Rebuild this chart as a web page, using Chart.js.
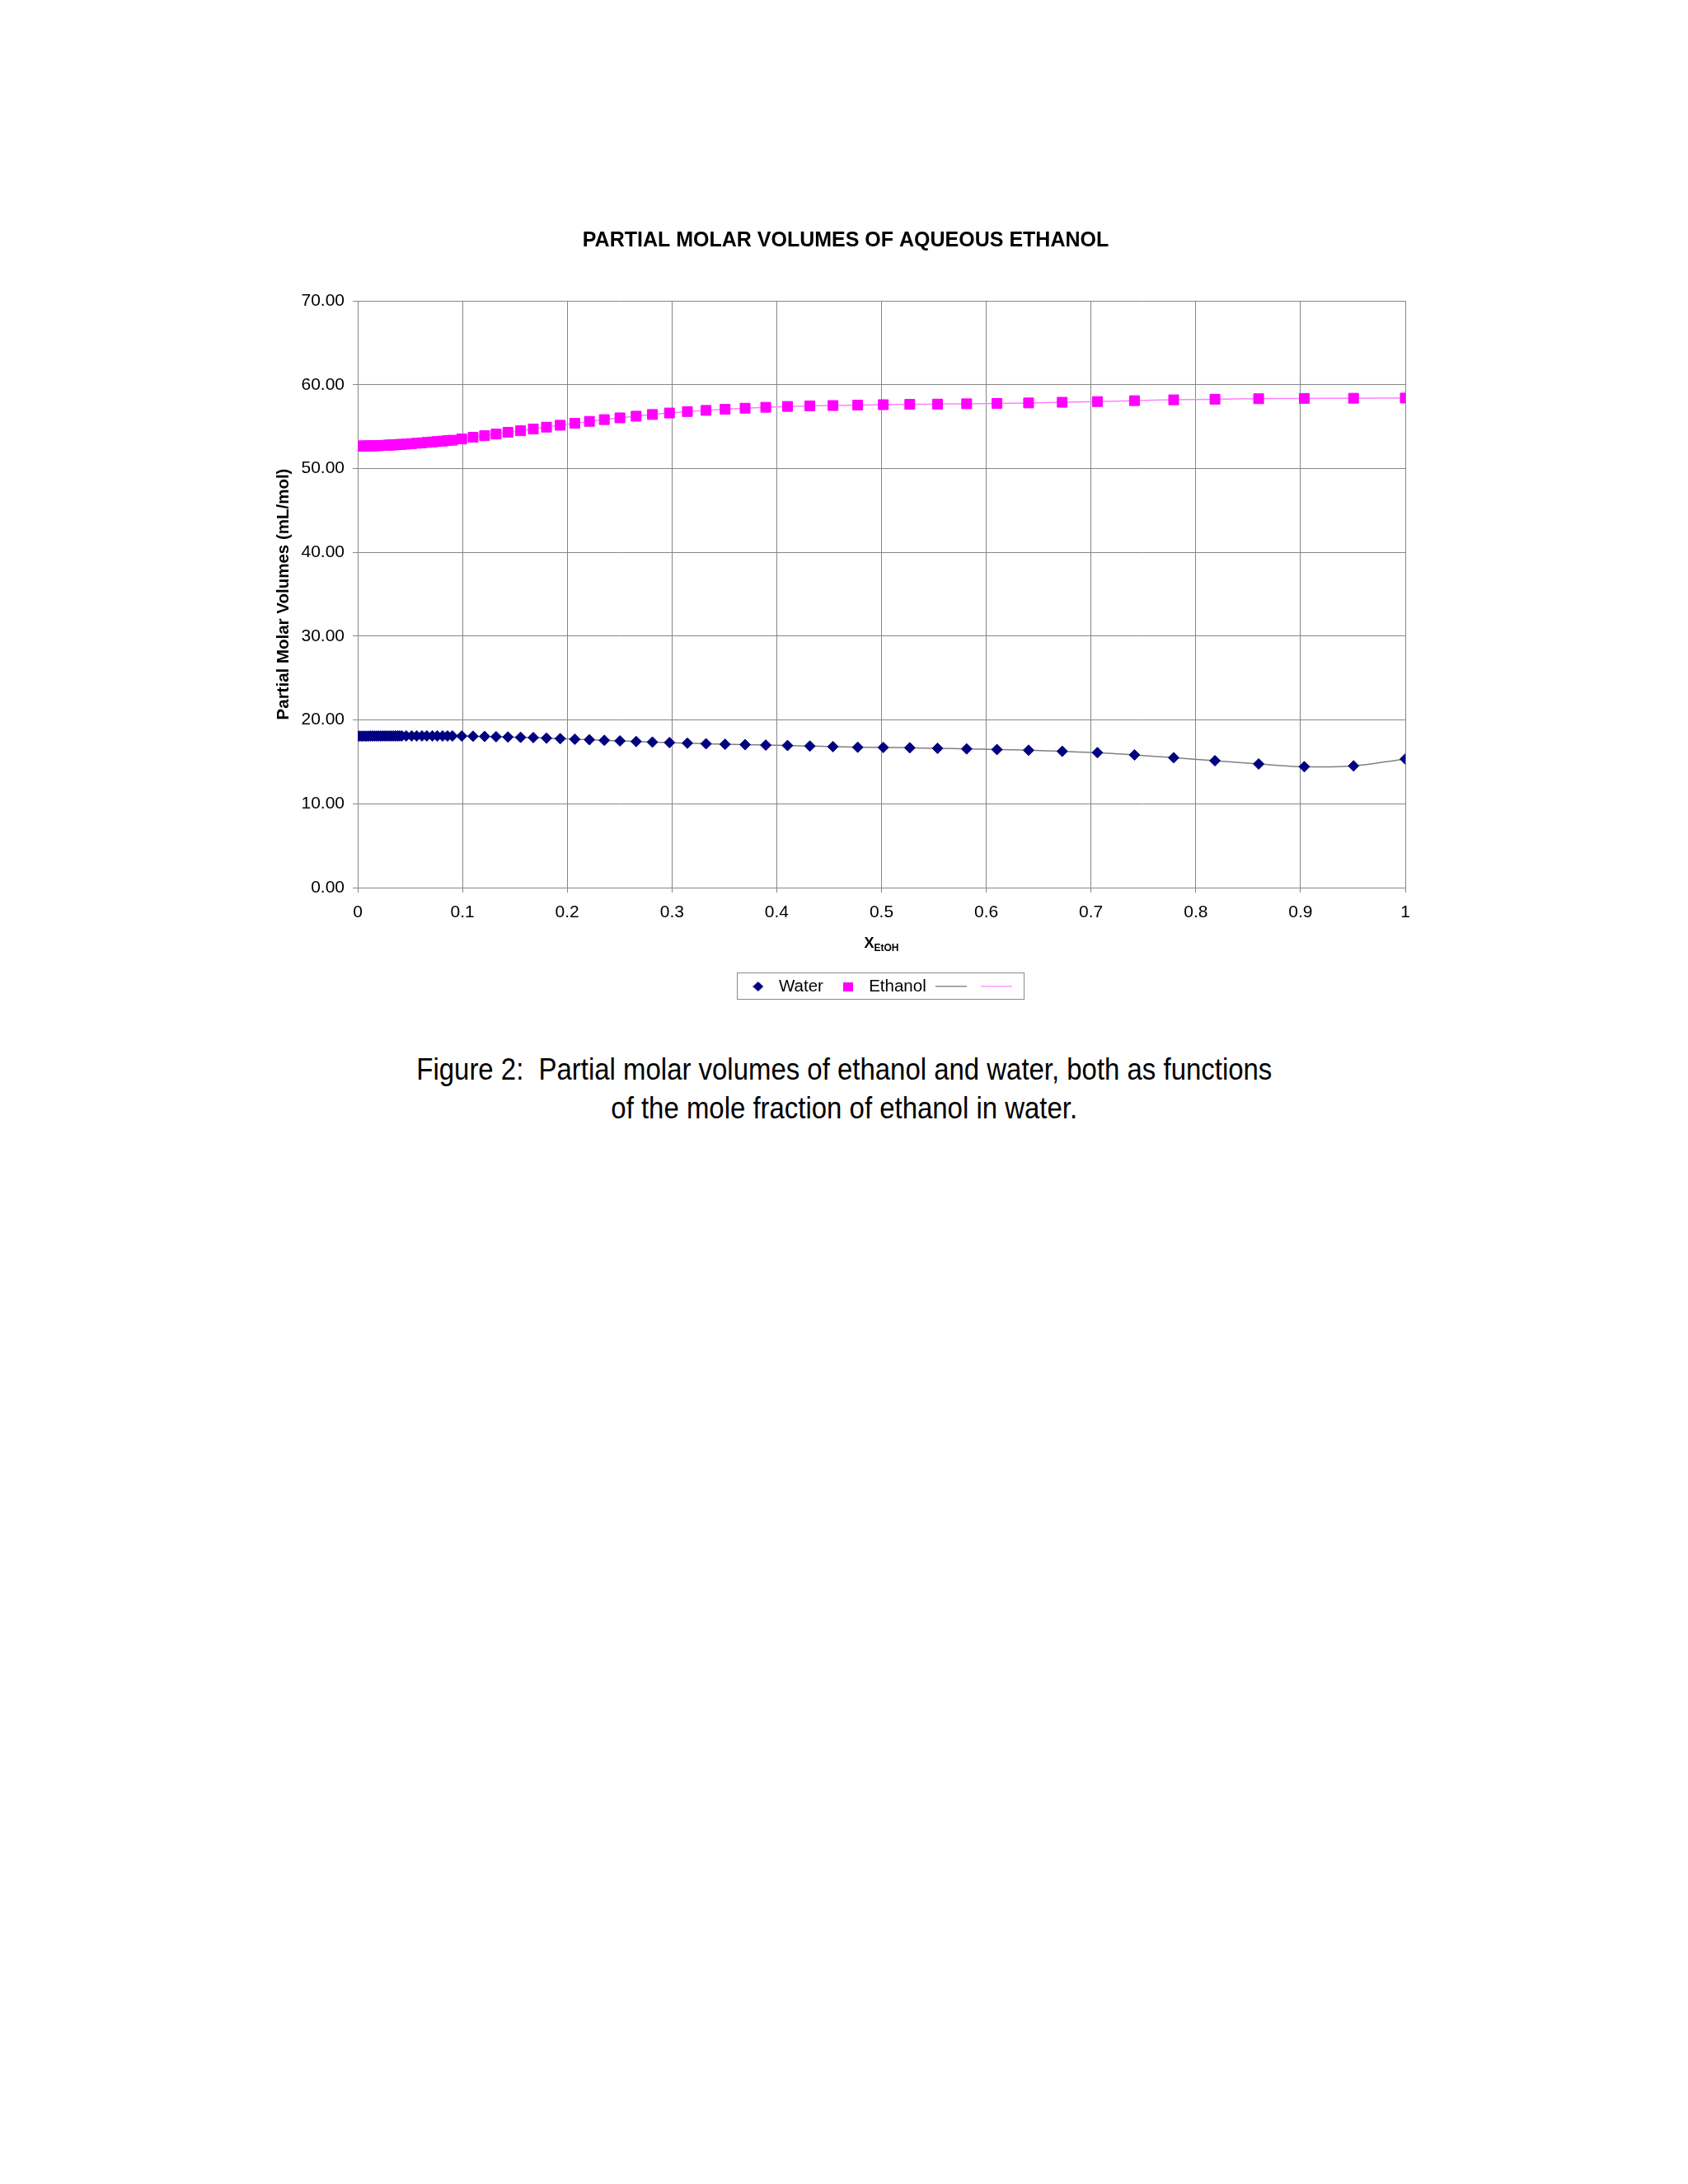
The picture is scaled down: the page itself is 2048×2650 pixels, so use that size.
<!DOCTYPE html>
<html>
<head>
<meta charset="utf-8">
<title>Partial molar volumes of aqueous ethanol</title>
<script src="https://cdn.jsdelivr.net/npm/chart.js@4.4.1/dist/chart.umd.min.js"></script>
<style>
  html, body { margin: 0; padding: 0; background: #fff; }
  body { width: 2048px; height: 2650px; position: relative; overflow: hidden; font-family: "Liberation Sans", Arial, sans-serif; }
  #chartBox { position: absolute; left: 0; top: 0; width: 2048px; height: 1240px; }
  #caption { position: absolute; left: 0; top: 1275px; width: 2048px; text-align: center; font-size: 36px; line-height: 46.7px; color: #000; }
  #caption span { display: inline-block; white-space: pre; transform-origin: 50% 50%; }
</style>
</head>
<body>
<div id="chartBox"><canvas id="myChart" width="2048" height="1240"></canvas></div>
<div id="caption"><span id="cap1">Figure 2:  Partial molar volumes of ethanol and water, both as functions</span><br><span id="cap2">of the mole fraction of ethanol in water.</span></div>
<script>
// Fracción molar de etanol (eje X)
const xEtOH = [
    0, 0.002, 0.004, 0.006, 0.008, 0.010, 0.012, 0.014, 0.016, 0.018, 0.020,
    0.022, 0.024, 0.026, 0.028, 0.030, 0.032, 0.034, 0.036, 0.038, 0.040, 0.042,
    0.0463, 0.0515, 0.0563, 0.0613, 0.0660, 0.0713, 0.0760, 0.0810, 0.0857, 0.0904,
    0.0993, 0.1101, 0.1211, 0.1321, 0.1434, 0.1555, 0.1676, 0.1802, 0.1933, 0.2072,
    0.2212, 0.2354, 0.2503, 0.2658, 0.2813, 0.2976, 0.3147, 0.3325, 0.3507, 0.3698,
    0.3895, 0.4103, 0.4316, 0.4537, 0.4773, 0.5017, 0.5270, 0.5535, 0.5813, 0.6102,
    0.6404, 0.6725, 0.7061, 0.7415, 0.7789, 0.8183, 0.8600, 0.9036, 0.9506, 1.0
];

// Volumen molar parcial del agua (mL/mol)
const waterVolumes = [
    18.07, 18.07, 18.07, 18.07, 18.07, 18.07, 18.08, 18.08, 18.08, 18.08, 18.08,
    18.08, 18.09, 18.09, 18.09, 18.09, 18.09, 18.09, 18.10, 18.10, 18.10, 18.10,
    18.10, 18.10, 18.10, 18.10, 18.10, 18.10, 18.09, 18.09, 18.09, 18.09,
    18.08, 18.06, 18.03, 18.00, 17.96, 17.93, 17.90, 17.83, 17.77, 17.70,
    17.64, 17.57, 17.50, 17.43, 17.36, 17.30, 17.23, 17.16, 17.10, 17.05,
    17.00, 16.95, 16.88, 16.82, 16.75, 16.72, 16.68, 16.62, 16.55, 16.47,
    16.39, 16.26, 16.10, 15.83, 15.50, 15.14, 14.75, 14.42, 14.52, 15.34
];

// Volumen molar parcial del etanol (mL/mol)
const ethanolVolumes = [
    52.67, 52.67, 52.67, 52.68, 52.68, 52.69, 52.70, 52.70, 52.71, 52.72, 52.73,
    52.74, 52.75, 52.76, 52.77, 52.79, 52.80, 52.82, 52.83, 52.85, 52.86, 52.88,
    52.91, 52.96, 53.01, 53.06, 53.11, 53.16, 53.22, 53.27, 53.32, 53.37,
    53.52, 53.72, 53.91, 54.11, 54.31, 54.50, 54.71, 54.93, 55.16, 55.39,
    55.62, 55.83, 56.04, 56.24, 56.44, 56.62, 56.79, 56.93, 57.06, 57.19,
    57.30, 57.40, 57.46, 57.51, 57.56, 57.61, 57.65, 57.68, 57.72, 57.76,
    57.82, 57.90, 57.98, 58.09, 58.19, 58.26, 58.32, 58.36, 58.38, 58.40
];

const seriesNames = ['Water', 'Ethanol'];
const xTickLabels = ['0', '0.1', '0.2', '0.3', '0.4', '0.5', '0.6', '0.7', '0.8', '0.9', '1'];
const yTickLabels = ['0.00', '10.00', '20.00', '30.00', '40.00', '50.00', '60.00', '70.00'];

const fontFamily = '"Liberation Sans", Arial, sans-serif';
Chart.defaults.font.family = fontFamily;
Chart.defaults.color = '#000';

const waterPoints = xEtOH.map((x, i) => ({ x: x, y: waterVolumes[i] }));
const ethanolPoints = xEtOH.map((x, i) => ({ x: x, y: ethanolVolumes[i] }));

// Pequeños lienzos para los símbolos de la leyenda
function makeMarker(w, h, draw) {
    const c = document.createElement('canvas');
    c.width = w;
    c.height = h;
    draw(c.getContext('2d'), w, h);
    return c;
}
const diamondIcon = makeMarker(13, 12, (g, w, h) => {
    g.fillStyle = '#000080';
    g.beginPath();
    g.moveTo(w / 2, 0); g.lineTo(w, h / 2); g.lineTo(w / 2, h); g.lineTo(0, h / 2);
    g.closePath();
    g.fill();
});
const squareIcon = makeMarker(12, 11, (g, w, h) => {
    g.fillStyle = '#ff00ff';
    g.fillRect(0, 0, w, h);
});
const greyLineIcon = makeMarker(38, 2, (g, w, h) => {
    g.fillStyle = '#8c8c8c';
    g.fillRect(0, 0, w, 1.5);
});
const pinkLineIcon = makeMarker(38, 2, (g, w, h) => {
    g.fillStyle = '#ff9cff';
    g.fillRect(0, 0, w, 1.5);
});

// Marco de la leyenda y título del eje X con subíndice
const extras = {
    id: 'extras',
    afterDraw(chart) {
        const ctx = chart.ctx;
        const boxes = chart.legend.legendHitBoxes;
        if (boxes && boxes.length) {
            const first = boxes[0];
            const last = boxes[boxes.length - 1];
            const left = Math.round(first.left - 11) + 0.5;
            const right = Math.round(last.left + last.width + 8) + 0.5;
            const top = Math.round(first.top - 7) + 0.5;
            const bottom = Math.round(first.top + first.height + 4.5) + 0.5;
            ctx.save();
            ctx.strokeStyle = '#8a8a8a';
            ctx.lineWidth = 1;
            ctx.strokeRect(left, top, right - left, bottom - top);
            ctx.restore();
        }

        const area = chart.chartArea;
        const cx = (area.left + area.right) / 2;
        ctx.save();
        ctx.fillStyle = '#000';
        ctx.textAlign = 'left';
        ctx.textBaseline = 'alphabetic';
        ctx.font = 'bold 18px ' + fontFamily;
        const wX = ctx.measureText('X').width;
        ctx.font = 'bold 12px ' + fontFamily;
        const wSub = ctx.measureText('EtOH').width;
        const x0 = cx - (wX + wSub) / 2;
        ctx.font = 'bold 18px ' + fontFamily;
        ctx.fillText('X', x0, area.bottom + 73);
        ctx.font = 'bold 12px ' + fontFamily;
        ctx.fillText('EtOH', x0 + wX, area.bottom + 76.5);
        ctx.restore();
    }
};

const ctx = document.getElementById('myChart').getContext('2d');
const myChart = new Chart(ctx, {
    type: 'scatter',
    data: {
        datasets: [{
            label: seriesNames[0],
            data: waterPoints,
            showLine: false,
            pointStyle: 'rectRot',
            pointRadius: 6.5,
            pointHoverRadius: 6.5,
            pointBorderWidth: 1,
            backgroundColor: '#000080',
            borderColor: '#000080'
        }, {
            label: seriesNames[1],
            data: ethanolPoints,
            showLine: false,
            pointStyle: 'rect',
            pointRadius: 8.5,
            pointHoverRadius: 8.5,
            pointBorderWidth: 1,
            backgroundColor: '#ff00ff',
            borderColor: '#ff00ff'
        }, {
            label: '',
            data: waterPoints,
            showLine: true,
            pointRadius: 0,
            borderColor: '#808080',
            borderWidth: 1.5,
            tension: 0.3,
            fill: false
        }, {
            label: '',
            data: ethanolPoints,
            showLine: true,
            pointRadius: 0,
            borderColor: '#ff80ff',
            borderWidth: 1.5,
            tension: 0.3,
            fill: false
        }]
    },
    options: {
        responsive: false,
        animation: false,
        layout: {
            padding: { left: 347, right: 343, top: 0, bottom: 22.75 }
        },
        scales: {
            x: {
                type: 'linear',
                min: 0,
                max: 1,
                afterFit: function(axis) { axis.height = 94.75; },
                ticks: {
                    stepSize: 0.1,
                    autoSkip: false,
                    maxRotation: 0,
                    padding: 11.5,
                    color: '#000',
                    font: { size: 21 },
                    callback: function(value, index) { return xTickLabels[index]; }
                },
                grid: { color: '#868686', lineWidth: 1, tickLength: 6 },
                border: { color: '#868686', width: 1 }
            },
            y: {
                min: 0,
                max: 70,
                afterFit: function(axis) { axis.width = 87; },
                ticks: {
                    stepSize: 10,
                    padding: 10,
                    color: '#000',
                    font: { size: 21 },
                    callback: function(value, index) { return yTickLabels[index]; }
                },
                grid: { color: '#868686', lineWidth: 1, tickLength: 6 },
                border: { color: '#868686', width: 1 },
                title: {
                    display: true,
                    text: 'Partial Molar Volumes (mL/mol)',
                    color: '#000',
                    font: { size: 20.5, weight: 'bold' },
                    padding: { top: -14.5, bottom: 0 }
                }
            }
        },
        plugins: {
            title: {
                display: true,
                text: 'PARTIAL MOLAR VOLUMES OF AQUEOUS ETHANOL',
                color: '#000',
                font: { size: 25, weight: 'bold' },
                padding: { top: 277, bottom: 58 }
            },
            legend: {
                position: 'bottom',
                fullSize: false,
                labels: {
                    usePointStyle: true,
                    pointStyleWidth: 30,
                    padding: 15,
                    color: '#000',
                    font: { size: 20.5 },
                    generateLabels: function(chart) {
                        const icons = [diamondIcon, squareIcon, greyLineIcon, pinkLineIcon];
                        return chart.data.datasets.map((ds, i) => ({
                            text: ds.label,
                            pointStyle: icons[i],
                            rotation: 0,
                            fillStyle: 'transparent',
                            strokeStyle: 'transparent',
                            lineWidth: 0,
                            fontColor: '#000',
                            hidden: !chart.isDatasetVisible(i),
                            datasetIndex: i
                        }));
                    }
                }
            },
            tooltip: { enabled: false }
        }
    },
    plugins: [extras]
});

// Pie de figura con letra estrecha
const cap1 = document.getElementById('cap1');
const cap2 = document.getElementById('cap2');
const squeeze = 1038 / cap1.getBoundingClientRect().width;
cap1.style.transform = 'scaleX(' + squeeze + ')';
cap2.style.transform = 'scaleX(' + squeeze + ')';
</script>
</body>
</html>
